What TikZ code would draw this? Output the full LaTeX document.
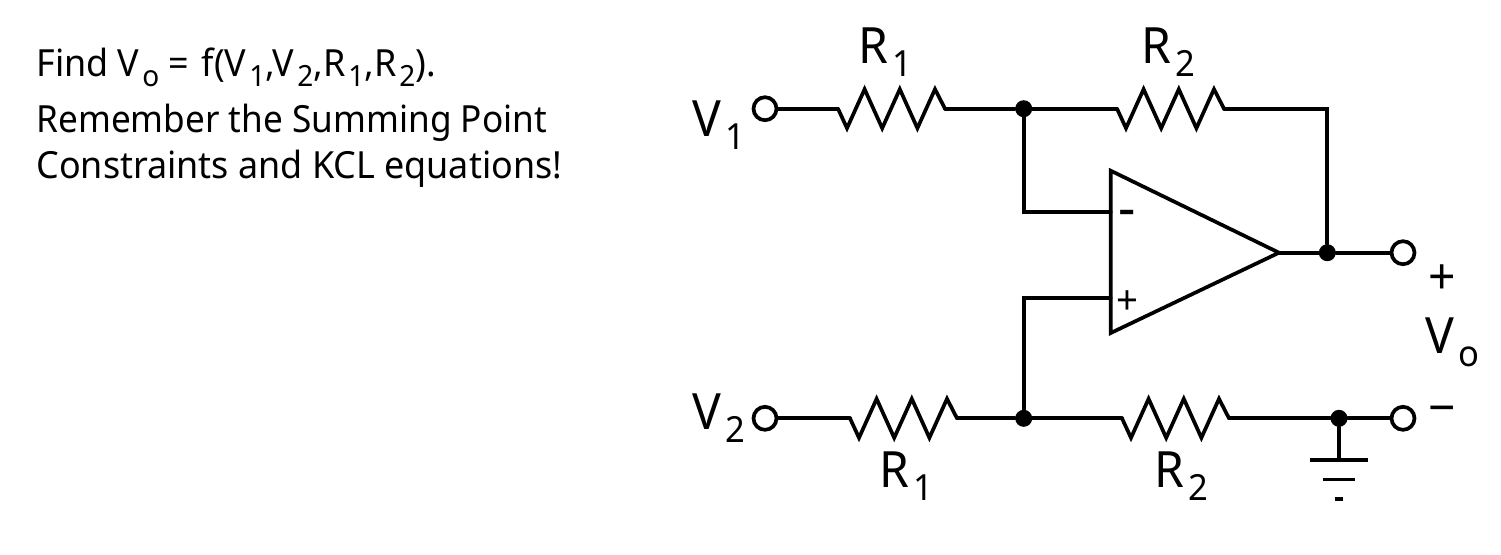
\documentclass[tikz,border=0pt]{standalone}
\usepackage{fontspec}
\setmainfont[FakeStretch=0.96]{Noto Sans}
\newcommand{\lowsub}[2][.78]{\kern.08em\raisebox{-.26em}{\scalebox{#1}{#2}}}
\tikzset{
  wire/.style={line width=1.85pt,line join=miter,line cap=round},
  dot/.style={shape=circle,fill=black,inner sep=0pt,minimum size=8.5pt},
  term/.style={shape=circle,draw=black,fill=white,line width=1.85pt,inner sep=0pt,minimum size=11.5pt},
  big/.style={font=\fontsize{25}{30}\selectfont,inner sep=0pt,anchor=base west},
  note/.style={font=\fontsize{18.7}{24}\selectfont,inner sep=0pt,anchor=base west},
}
\begin{document}
\begin{tikzpicture}[x=0.5pt,y=-0.5pt]
  \useasboundingbox (0,0) rectangle (1501,554);

  \node[note] (find) at (36,76.7) {Find V\lowsub{o} =\,\,f(V\lowsub{1},V\lowsub{2},R\lowsub{1},R\lowsub{2}).};
  \node[note] (remember) at (36,132.7) {\scalebox{.98}[1]{Remember the Summing Point}};
  \node[note] (constraints) at (36,178) {Constraints and KCL equations!};

  % terminals and junctions
  \node[term] (v1) at (765,108.7) {};
  \node[term] (v2) at (765,418.3) {};
  \node[term] (vp) at (1403,252.7) {};
  \node[term] (vm) at (1403,418.3) {};
  \node[dot] (top) at (1023.7,108.7) {};
  \node[dot] (bot) at (1023.7,418.3) {};
  \node[dot] (out) at (1327.3,252.7) {};
  \node[dot] (gnd) at (1339,418.3) {};

  % op amp
  \coordinate (ua) at (1110.7,170.7);
  \coordinate (ub) at (1110.7,333);
  \coordinate (uo) at (1279,252.7);
  \coordinate (um) at (1110.7,212);
  \coordinate (up) at (1110.7,297.7);
  \draw[wire] (ua) -- (uo) -- (ub) -- cycle;
  \node[inner sep=0pt,font=\bfseries\fontsize{28}{28}\selectfont] (minus) at (1127,219) {-};
  \node[inner sep=0pt,font=\fontsize{20}{20}\selectfont] (plus) at (1127,303) {+};

  % resistors
  \foreach \n/\x/\y in {ra/838/108.7, rb/1117/108.7, rc/850/418.3, rd/1122/418.3} {
    \coordinate (\n l) at (\x,\y);
    \coordinate (\n r) at (\x+107,\y);
    \draw[wire] (\n l) -- ++(9,19.5) -- ++(17.6,-39) -- ++(17.6,39) -- ++(17.6,-39)
      -- ++(17.6,39) -- ++(17.6,-39) -- (\n r);
  }

  \draw[wire] (v1) -- (ral);
  \draw[wire] (rar) -- (top);
  \draw[wire] (top) -- (rbl);
  \draw[wire] (rbr) -| (out);
  \draw[wire] (v2) -- (rcl);
  \draw[wire] (rcr) -- (bot);
  \draw[wire] (bot) -- (rdl);
  \draw[wire] (rdr) -- (gnd);
  \draw[wire] (gnd) -- (vm);
  \draw[wire] (uo) -- (out);
  \draw[wire] (out) -- (vp);
  \draw[wire] (top) |- (um);
  \draw[wire] (bot) |- (up);

  % ground
  \coordinate (ga) at (1339,460);
  \coordinate (gl) at (1310,460);
  \coordinate (gr) at (1368,460);
  \coordinate (hl) at (1323,479.5);
  \coordinate (hr) at (1355,479.5);
  \coordinate (il) at (1334.5,498.7);
  \coordinate (ir) at (1342.5,498.7);
  \draw[wire] (gnd) -- (ga);
  \draw[wire,line cap=butt] (gl) -- (gr);
  \draw[wire,line cap=butt] (hl) -- (hr);
  \draw[wire,line cap=butt] (il) -- (ir);

  % labels
  \node[big] (lv1) at (692,136) {V\lowsub[.72]{1}};
  \node[big] (lv2) at (692,429) {V\lowsub[.72]{2}};
  \node[big] (lr1) at (858,63.3) {R\lowsub[.72]{1}};
  \node[big] (lr2) at (1141,63.3) {R\lowsub[.72]{2}};
  \node[big] (lr3) at (879,487) {R\lowsub[.72]{1}};
  \node[big] (lr4) at (1154,487) {R\lowsub[.72]{2}};
  \node[big] (lp) at (1428,294) {+};
  \node[big] (lo) at (1425,353) {V\lowsub[.72]{o}};
  \node[big] (lm) at (1428,425) {−};
\end{tikzpicture}
\end{document}
